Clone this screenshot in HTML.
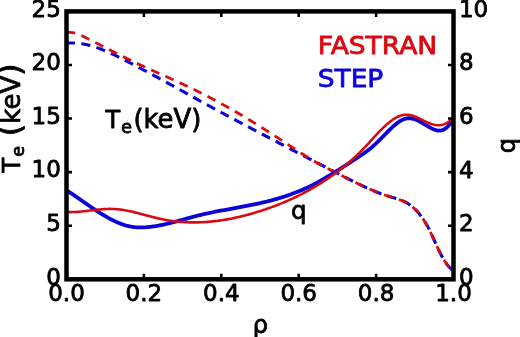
<!DOCTYPE html>
<html><head><meta charset="utf-8"><title>Te and q profiles</title>
<style>html,body{margin:0;padding:0;background:#fff}body{width:520px;height:337px;overflow:hidden}</style></head>
<body>
<svg width="520" height="337" viewBox="0 0 520 337" style="display:block;font-family:'DejaVu Sans','Liberation Sans',sans-serif">
<rect width="520" height="337" fill="#fff"/>
<clipPath id="c"><rect x="66.5" y="11.4" width="387.0" height="267.90000000000003"/></clipPath>
<g clip-path="url(#c)" fill="none" stroke-linejoin="round">
<path d="M66.50,43.23 L67.79,43.12 L69.09,43.03 L70.38,42.98 L71.68,42.96 L72.97,42.97 L74.27,43.01 L75.56,43.07 L76.85,43.16 L78.15,43.28 L79.44,43.43 L80.74,43.60 L82.03,43.80 L83.33,44.02 L84.62,44.26 L85.91,44.53 L87.21,44.82 L88.50,45.13 L89.80,45.47 L91.09,45.82 L92.39,46.20 L93.68,46.59 L94.97,47.00 L96.27,47.43 L97.56,47.88 L98.86,48.34 L100.15,48.82 L101.45,49.32 L102.74,49.83 L104.04,50.35 L105.33,50.89 L106.62,51.44 L107.92,52.00 L109.21,52.57 L110.51,53.16 L111.80,53.75 L113.10,54.36 L114.39,54.97 L115.68,55.60 L116.98,56.23 L118.27,56.87 L119.57,57.51 L120.86,58.16 L122.16,58.81 L123.45,59.47 L124.74,60.14 L126.04,60.80 L127.33,61.47 L128.63,62.15 L129.92,62.82 L131.22,63.49 L132.51,64.17 L133.80,64.84 L135.10,65.52 L136.39,66.20 L137.69,66.88 L138.98,67.56 L140.28,68.25 L141.57,68.93 L142.86,69.61 L144.16,70.30 L145.45,70.99 L146.75,71.68 L148.04,72.37 L149.34,73.06 L150.63,73.75 L151.92,74.45 L153.22,75.14 L154.51,75.84 L155.81,76.53 L157.10,77.23 L158.40,77.93 L159.69,78.63 L160.98,79.34 L162.28,80.04 L163.57,80.75 L164.87,81.45 L166.16,82.16 L167.46,82.87 L168.75,83.58 L170.05,84.29 L171.34,85.01 L172.63,85.72 L173.93,86.43 L175.22,87.15 L176.52,87.87 L177.81,88.59 L179.11,89.30 L180.40,90.02 L181.69,90.74 L182.99,91.46 L184.28,92.18 L185.58,92.90 L186.87,93.62 L188.17,94.34 L189.46,95.06 L190.75,95.78 L192.05,96.50 L193.34,97.22 L194.64,97.93 L195.93,98.65 L197.23,99.37 L198.52,100.08 L199.81,100.79 L201.11,101.50 L202.40,102.21 L203.70,102.92 L204.99,103.63 L206.29,104.34 L207.58,105.05 L208.87,105.75 L210.17,106.46 L211.46,107.16 L212.76,107.86 L214.05,108.57 L215.35,109.27 L216.64,109.97 L217.93,110.67 L219.23,111.37 L220.52,112.06 L221.82,112.76 L223.11,113.46 L224.41,114.15 L225.70,114.84 L226.99,115.54 L228.29,116.23 L229.58,116.92 L230.88,117.61 L232.17,118.31 L233.47,119.00 L234.76,119.68 L236.06,120.37 L237.35,121.06 L238.64,121.75 L239.94,122.44 L241.23,123.12 L242.53,123.81 L243.82,124.49 L245.12,125.18 L246.41,125.86 L247.70,126.54 L249.00,127.23 L250.29,127.91 L251.59,128.59 L252.88,129.27 L254.18,129.95 L255.47,130.63 L256.76,131.31 L258.06,131.99 L259.35,132.67 L260.65,133.35 L261.94,134.03 L263.24,134.71 L264.53,135.39 L265.82,136.07 L267.12,136.74 L268.41,137.42 L269.71,138.10 L271.00,138.77 L272.30,139.45 L273.59,140.13 L274.88,140.80 L276.18,141.48 L277.47,142.16 L278.77,142.83 L280.06,143.51 L281.36,144.18 L282.65,144.86 L283.94,145.53 L285.24,146.21 L286.53,146.88 L287.83,147.56 L289.12,148.23 L290.42,148.91 L291.71,149.58 L293.01,150.26 L294.30,150.93 L295.59,151.60 L296.89,152.28 L298.18,152.95 L299.48,153.63 L300.77,154.30 L302.07,154.97 L303.36,155.64 L304.65,156.32 L305.95,156.99 L307.24,157.66 L308.54,158.33 L309.83,159.01 L311.13,159.68 L312.42,160.35 L313.71,161.02 L315.01,161.69 L316.30,162.36 L317.60,163.04 L318.89,163.71 L320.19,164.38 L321.48,165.05 L322.77,165.72 L324.07,166.39 L325.36,167.06 L326.66,167.72 L327.95,168.39 L329.25,169.06 L330.54,169.73 L331.83,170.40 L333.13,171.07 L334.42,171.73 L335.72,172.40 L337.01,173.07 L338.31,173.74 L339.60,174.40 L340.89,175.07 L342.19,175.73 L343.48,176.40 L344.78,177.06 L346.07,177.73 L347.37,178.39 L348.66,179.05 L349.95,179.71 L351.25,180.36 L352.54,181.01 L353.84,181.66 L355.13,182.30 L356.43,182.94 L357.72,183.58 L359.02,184.21 L360.31,184.83 L361.60,185.45 L362.90,186.06 L364.19,186.66 L365.49,187.26 L366.78,187.85 L368.08,188.43 L369.37,189.00 L370.66,189.57 L371.96,190.12 L373.25,190.67 L374.55,191.20 L375.84,191.72 L377.14,192.24 L378.43,192.74 L379.72,193.23 L381.02,193.71 L382.31,194.17 L383.61,194.63 L384.90,195.07 L386.20,195.49 L387.49,195.90 L388.78,196.30 L390.08,196.68 L391.37,197.06 L392.67,197.43 L393.96,197.80 L395.26,198.19 L396.55,198.59 L397.84,199.00 L399.14,199.45 L400.43,199.92 L401.73,200.43 L403.02,200.99 L404.32,201.59 L405.61,202.24 L406.90,202.96 L408.20,203.74 L409.49,204.59 L410.79,205.51 L412.08,206.52 L413.38,207.62 L414.67,208.80 L415.96,210.09 L417.26,211.48 L418.55,212.99 L419.85,214.60 L421.14,216.32 L422.44,218.13 L423.73,220.04 L425.03,222.03 L426.32,224.13 L427.61,226.37 L428.91,228.79 L430.20,231.39 L431.50,234.13 L432.79,236.96 L434.09,239.85 L435.38,242.76 L436.67,245.65 L437.97,248.48 L439.26,251.20 L440.56,253.80 L441.85,256.25 L443.15,258.56 L444.44,260.71 L445.73,262.69 L447.03,264.49 L448.32,266.10 L449.62,267.51 L450.91,268.71 L452.21,269.69 L453.50,270.44" stroke="#0d05d8" stroke-width="3.1" stroke-dasharray="9.2 6.37" stroke-dashoffset="0.7"/>
<path d="M66.50,32.80 L67.79,32.56 L69.09,32.44 L70.38,32.43 L71.68,32.52 L72.97,32.70 L74.27,32.96 L75.56,33.30 L76.85,33.71 L78.15,34.17 L79.44,34.69 L80.74,35.24 L82.03,35.84 L83.33,36.45 L84.62,37.08 L85.91,37.73 L87.21,38.37 L88.50,39.02 L89.80,39.67 L91.09,40.32 L92.39,40.98 L93.68,41.64 L94.97,42.30 L96.27,42.96 L97.56,43.62 L98.86,44.28 L100.15,44.95 L101.45,45.61 L102.74,46.28 L104.04,46.94 L105.33,47.61 L106.62,48.27 L107.92,48.94 L109.21,49.60 L110.51,50.26 L111.80,50.93 L113.10,51.59 L114.39,52.25 L115.68,52.91 L116.98,53.56 L118.27,54.22 L119.57,54.87 L120.86,55.52 L122.16,56.17 L123.45,56.81 L124.74,57.45 L126.04,58.09 L127.33,58.73 L128.63,59.36 L129.92,59.98 L131.22,60.61 L132.51,61.23 L133.80,61.84 L135.10,62.46 L136.39,63.07 L137.69,63.67 L138.98,64.28 L140.28,64.88 L141.57,65.48 L142.86,66.08 L144.16,66.67 L145.45,67.27 L146.75,67.86 L148.04,68.45 L149.34,69.04 L150.63,69.62 L151.92,70.21 L153.22,70.79 L154.51,71.38 L155.81,71.96 L157.10,72.54 L158.40,73.13 L159.69,73.71 L160.98,74.29 L162.28,74.87 L163.57,75.45 L164.87,76.03 L166.16,76.61 L167.46,77.20 L168.75,77.78 L170.05,78.36 L171.34,78.95 L172.63,79.54 L173.93,80.12 L175.22,80.71 L176.52,81.30 L177.81,81.90 L179.11,82.49 L180.40,83.09 L181.69,83.69 L182.99,84.29 L184.28,84.89 L185.58,85.50 L186.87,86.10 L188.17,86.72 L189.46,87.33 L190.75,87.95 L192.05,88.57 L193.34,89.20 L194.64,89.82 L195.93,90.46 L197.23,91.09 L198.52,91.73 L199.81,92.38 L201.11,93.03 L202.40,93.68 L203.70,94.34 L204.99,95.00 L206.29,95.66 L207.58,96.33 L208.87,97.00 L210.17,97.68 L211.46,98.36 L212.76,99.05 L214.05,99.73 L215.35,100.43 L216.64,101.12 L217.93,101.82 L219.23,102.52 L220.52,103.23 L221.82,103.94 L223.11,104.66 L224.41,105.37 L225.70,106.10 L226.99,106.82 L228.29,107.55 L229.58,108.28 L230.88,109.02 L232.17,109.76 L233.47,110.50 L234.76,111.25 L236.06,112.00 L237.35,112.75 L238.64,113.51 L239.94,114.27 L241.23,115.03 L242.53,115.79 L243.82,116.56 L245.12,117.34 L246.41,118.11 L247.70,118.89 L249.00,119.67 L250.29,120.46 L251.59,121.25 L252.88,122.04 L254.18,122.83 L255.47,123.63 L256.76,124.43 L258.06,125.23 L259.35,126.04 L260.65,126.85 L261.94,127.66 L263.24,128.48 L264.53,129.29 L265.82,130.12 L267.12,130.94 L268.41,131.77 L269.71,132.59 L271.00,133.43 L272.30,134.26 L273.59,135.10 L274.88,135.94 L276.18,136.78 L277.47,137.62 L278.77,138.47 L280.06,139.32 L281.36,140.17 L282.65,141.03 L283.94,141.88 L285.24,142.74 L286.53,143.59 L287.83,144.45 L289.12,145.30 L290.42,146.15 L291.71,147.01 L293.01,147.86 L294.30,148.70 L295.59,149.55 L296.89,150.39 L298.18,151.23 L299.48,152.06 L300.77,152.89 L302.07,153.72 L303.36,154.53 L304.65,155.35 L305.95,156.15 L307.24,156.95 L308.54,157.75 L309.83,158.53 L311.13,159.31 L312.42,160.07 L313.71,160.83 L315.01,161.58 L316.30,162.32 L317.60,163.05 L318.89,163.77 L320.19,164.49 L321.48,165.19 L322.77,165.89 L324.07,166.58 L325.36,167.27 L326.66,167.95 L327.95,168.62 L329.25,169.29 L330.54,169.95 L331.83,170.61 L333.13,171.27 L334.42,171.93 L335.72,172.58 L337.01,173.23 L338.31,173.88 L339.60,174.53 L340.89,175.18 L342.19,175.83 L343.48,176.48 L344.78,177.13 L346.07,177.78 L347.37,178.42 L348.66,179.07 L349.95,179.72 L351.25,180.36 L352.54,181.00 L353.84,181.64 L355.13,182.28 L356.43,182.91 L357.72,183.54 L359.02,184.16 L360.31,184.78 L361.60,185.39 L362.90,186.00 L364.19,186.60 L365.49,187.19 L366.78,187.78 L368.08,188.36 L369.37,188.93 L370.66,189.50 L371.96,190.05 L373.25,190.60 L374.55,191.14 L375.84,191.67 L377.14,192.18 L378.43,192.69 L379.72,193.19 L381.02,193.67 L382.31,194.14 L383.61,194.60 L384.90,195.05 L386.20,195.48 L387.49,195.90 L388.78,196.31 L390.08,196.70 L391.37,197.09 L392.67,197.47 L393.96,197.86 L395.26,198.25 L396.55,198.66 L397.84,199.09 L399.14,199.54 L400.43,200.02 L401.73,200.53 L403.02,201.09 L404.32,201.69 L405.61,202.34 L406.90,203.05 L408.20,203.82 L409.49,204.66 L410.79,205.57 L412.08,206.56 L413.38,207.63 L414.67,208.80 L415.96,210.05 L417.26,211.41 L418.55,212.87 L419.85,214.44 L421.14,216.13 L422.44,217.94 L423.73,219.87 L425.03,221.94 L426.32,224.14 L427.61,226.48 L428.91,228.96 L430.20,231.57 L431.50,234.29 L432.79,237.09 L434.09,239.92 L435.38,242.77 L436.67,245.61 L437.97,248.39 L439.26,251.11 L440.56,253.72 L441.85,256.21 L443.15,258.56 L444.44,260.75 L445.73,262.76 L447.03,264.57 L448.32,266.16 L449.62,267.52 L450.91,268.63 L452.21,269.59 L453.50,270.51" stroke="#da0a12" stroke-width="2.75" stroke-dasharray="8.9 6.67" stroke-dashoffset="0.2"/>
<path d="M66.50,190.24 L67.79,191.08 L69.09,191.94 L70.38,192.80 L71.68,193.67 L72.97,194.55 L74.27,195.43 L75.56,196.32 L76.85,197.21 L78.15,198.11 L79.44,199.01 L80.74,199.91 L82.03,200.82 L83.33,201.72 L84.62,202.62 L85.91,203.52 L87.21,204.42 L88.50,205.31 L89.80,206.20 L91.09,207.08 L92.39,207.96 L93.68,208.83 L94.97,209.69 L96.27,210.54 L97.56,211.38 L98.86,212.21 L100.15,213.03 L101.45,213.84 L102.74,214.63 L104.04,215.41 L105.33,216.18 L106.62,216.92 L107.92,217.65 L109.21,218.37 L110.51,219.06 L111.80,219.73 L113.10,220.38 L114.39,221.01 L115.68,221.61 L116.98,222.19 L118.27,222.75 L119.57,223.28 L120.86,223.78 L122.16,224.25 L123.45,224.69 L124.74,225.10 L126.04,225.48 L127.33,225.82 L128.63,226.14 L129.92,226.41 L131.22,226.66 L132.51,226.86 L133.80,227.04 L135.10,227.18 L136.39,227.29 L137.69,227.37 L138.98,227.43 L140.28,227.45 L141.57,227.46 L142.86,227.43 L144.16,227.38 L145.45,227.31 L146.75,227.22 L148.04,227.11 L149.34,226.98 L150.63,226.83 L151.92,226.67 L153.22,226.49 L154.51,226.30 L155.81,226.09 L157.10,225.87 L158.40,225.64 L159.69,225.39 L160.98,225.13 L162.28,224.87 L163.57,224.59 L164.87,224.31 L166.16,224.01 L167.46,223.71 L168.75,223.40 L170.05,223.08 L171.34,222.75 L172.63,222.42 L173.93,222.08 L175.22,221.74 L176.52,221.40 L177.81,221.05 L179.11,220.70 L180.40,220.34 L181.69,219.99 L182.99,219.63 L184.28,219.27 L185.58,218.91 L186.87,218.55 L188.17,218.20 L189.46,217.84 L190.75,217.49 L192.05,217.14 L193.34,216.79 L194.64,216.45 L195.93,216.11 L197.23,215.78 L198.52,215.45 L199.81,215.13 L201.11,214.82 L202.40,214.51 L203.70,214.21 L204.99,213.91 L206.29,213.62 L207.58,213.34 L208.87,213.06 L210.17,212.79 L211.46,212.52 L212.76,212.25 L214.05,211.99 L215.35,211.73 L216.64,211.48 L217.93,211.23 L219.23,210.98 L220.52,210.73 L221.82,210.49 L223.11,210.25 L224.41,210.01 L225.70,209.77 L226.99,209.54 L228.29,209.30 L229.58,209.07 L230.88,208.83 L232.17,208.60 L233.47,208.37 L234.76,208.13 L236.06,207.90 L237.35,207.67 L238.64,207.43 L239.94,207.19 L241.23,206.95 L242.53,206.71 L243.82,206.47 L245.12,206.22 L246.41,205.98 L247.70,205.73 L249.00,205.47 L250.29,205.21 L251.59,204.95 L252.88,204.69 L254.18,204.42 L255.47,204.14 L256.76,203.87 L258.06,203.59 L259.35,203.30 L260.65,203.01 L261.94,202.71 L263.24,202.41 L264.53,202.10 L265.82,201.79 L267.12,201.47 L268.41,201.14 L269.71,200.81 L271.00,200.47 L272.30,200.13 L273.59,199.78 L274.88,199.42 L276.18,199.05 L277.47,198.68 L278.77,198.30 L280.06,197.91 L281.36,197.51 L282.65,197.11 L283.94,196.70 L285.24,196.27 L286.53,195.84 L287.83,195.40 L289.12,194.95 L290.42,194.50 L291.71,194.03 L293.01,193.55 L294.30,193.06 L295.59,192.56 L296.89,192.06 L298.18,191.54 L299.48,191.01 L300.77,190.47 L302.07,189.92 L303.36,189.35 L304.65,188.78 L305.95,188.19 L307.24,187.59 L308.54,186.98 L309.83,186.36 L311.13,185.73 L312.42,185.08 L313.71,184.42 L315.01,183.75 L316.30,183.06 L317.60,182.37 L318.89,181.67 L320.19,180.95 L321.48,180.22 L322.77,179.49 L324.07,178.75 L325.36,177.99 L326.66,177.23 L327.95,176.46 L329.25,175.69 L330.54,174.90 L331.83,174.11 L333.13,173.32 L334.42,172.51 L335.72,171.71 L337.01,170.89 L338.31,170.07 L339.60,169.25 L340.89,168.42 L342.19,167.59 L343.48,166.76 L344.78,165.92 L346.07,165.08 L347.37,164.23 L348.66,163.39 L349.95,162.54 L351.25,161.70 L352.54,160.85 L353.84,160.00 L355.13,159.15 L356.43,158.31 L357.72,157.46 L359.02,156.61 L360.31,155.76 L361.60,154.90 L362.90,154.02 L364.19,153.13 L365.49,152.22 L366.78,151.28 L368.08,150.31 L369.37,149.31 L370.66,148.26 L371.96,147.18 L373.25,146.05 L374.55,144.89 L375.84,143.69 L377.14,142.45 L378.43,141.19 L379.72,139.90 L381.02,138.58 L382.31,137.25 L383.61,135.92 L384.90,134.58 L386.20,133.25 L387.49,131.92 L388.78,130.62 L390.08,129.35 L391.37,128.10 L392.67,126.90 L393.96,125.75 L395.26,124.65 L396.55,123.61 L397.84,122.64 L399.14,121.75 L400.43,120.94 L401.73,120.22 L403.02,119.60 L404.32,119.09 L405.61,118.69 L406.90,118.41 L408.20,118.25 L409.49,118.22 L410.79,118.32 L412.08,118.52 L413.38,118.83 L414.67,119.23 L415.96,119.72 L417.26,120.27 L418.55,120.89 L419.85,121.56 L421.14,122.28 L422.44,123.03 L423.73,123.80 L425.03,124.59 L426.32,125.38 L427.61,126.16 L428.91,126.93 L430.20,127.66 L431.50,128.35 L432.79,128.97 L434.09,129.51 L435.38,129.96 L436.67,130.30 L437.97,130.52 L439.26,130.59 L440.56,130.52 L441.85,130.27 L443.15,129.84 L444.44,129.21 L445.73,128.36 L447.03,127.29 L448.32,125.97 L449.62,124.39 L450.91,122.53 L452.21,120.38 L453.50,117.93" stroke="#0d05d8" stroke-width="3.8"/>
<path d="M66.50,212.05 L67.79,212.09 L69.09,212.12 L70.38,212.12 L71.68,212.11 L72.97,212.07 L74.27,212.02 L75.56,211.96 L76.85,211.88 L78.15,211.79 L79.44,211.68 L80.74,211.56 L82.03,211.44 L83.33,211.31 L84.62,211.17 L85.91,211.02 L87.21,210.87 L88.50,210.72 L89.80,210.57 L91.09,210.41 L92.39,210.26 L93.68,210.11 L94.97,209.96 L96.27,209.81 L97.56,209.68 L98.86,209.55 L100.15,209.43 L101.45,209.31 L102.74,209.21 L104.04,209.13 L105.33,209.05 L106.62,208.99 L107.92,208.95 L109.21,208.92 L110.51,208.91 L111.80,208.93 L113.10,208.96 L114.39,209.02 L115.68,209.10 L116.98,209.20 L118.27,209.32 L119.57,209.47 L120.86,209.63 L122.16,209.81 L123.45,210.01 L124.74,210.23 L126.04,210.46 L127.33,210.71 L128.63,210.97 L129.92,211.24 L131.22,211.52 L132.51,211.82 L133.80,212.12 L135.10,212.43 L136.39,212.75 L137.69,213.08 L138.98,213.41 L140.28,213.75 L141.57,214.09 L142.86,214.44 L144.16,214.78 L145.45,215.13 L146.75,215.48 L148.04,215.82 L149.34,216.17 L150.63,216.51 L151.92,216.84 L153.22,217.18 L154.51,217.50 L155.81,217.82 L157.10,218.13 L158.40,218.43 L159.69,218.73 L160.98,219.01 L162.28,219.28 L163.57,219.54 L164.87,219.78 L166.16,220.02 L167.46,220.24 L168.75,220.45 L170.05,220.66 L171.34,220.84 L172.63,221.02 L173.93,221.19 L175.22,221.35 L176.52,221.49 L177.81,221.63 L179.11,221.75 L180.40,221.86 L181.69,221.97 L182.99,222.06 L184.28,222.14 L185.58,222.21 L186.87,222.27 L188.17,222.32 L189.46,222.36 L190.75,222.39 L192.05,222.41 L193.34,222.42 L194.64,222.42 L195.93,222.41 L197.23,222.39 L198.52,222.36 L199.81,222.32 L201.11,222.27 L202.40,222.21 L203.70,222.14 L204.99,222.06 L206.29,221.98 L207.58,221.88 L208.87,221.78 L210.17,221.66 L211.46,221.54 L212.76,221.41 L214.05,221.27 L215.35,221.12 L216.64,220.96 L217.93,220.79 L219.23,220.61 L220.52,220.43 L221.82,220.24 L223.11,220.04 L224.41,219.83 L225.70,219.61 L226.99,219.38 L228.29,219.15 L229.58,218.91 L230.88,218.66 L232.17,218.40 L233.47,218.13 L234.76,217.86 L236.06,217.58 L237.35,217.29 L238.64,217.00 L239.94,216.69 L241.23,216.38 L242.53,216.06 L243.82,215.74 L245.12,215.41 L246.41,215.07 L247.70,214.72 L249.00,214.37 L250.29,214.01 L251.59,213.64 L252.88,213.27 L254.18,212.89 L255.47,212.50 L256.76,212.11 L258.06,211.71 L259.35,211.30 L260.65,210.89 L261.94,210.47 L263.24,210.04 L264.53,209.61 L265.82,209.18 L267.12,208.73 L268.41,208.28 L269.71,207.82 L271.00,207.36 L272.30,206.89 L273.59,206.41 L274.88,205.93 L276.18,205.43 L277.47,204.93 L278.77,204.43 L280.06,203.91 L281.36,203.39 L282.65,202.86 L283.94,202.32 L285.24,201.77 L286.53,201.22 L287.83,200.65 L289.12,200.08 L290.42,199.50 L291.71,198.91 L293.01,198.31 L294.30,197.71 L295.59,197.09 L296.89,196.47 L298.18,195.83 L299.48,195.19 L300.77,194.54 L302.07,193.88 L303.36,193.21 L304.65,192.52 L305.95,191.83 L307.24,191.13 L308.54,190.42 L309.83,189.70 L311.13,188.97 L312.42,188.22 L313.71,187.47 L315.01,186.71 L316.30,185.93 L317.60,185.15 L318.89,184.35 L320.19,183.54 L321.48,182.72 L322.77,181.89 L324.07,181.05 L325.36,180.20 L326.66,179.33 L327.95,178.45 L329.25,177.57 L330.54,176.66 L331.83,175.75 L333.13,174.83 L334.42,173.89 L335.72,172.94 L337.01,171.98 L338.31,171.00 L339.60,170.01 L340.89,169.01 L342.19,167.99 L343.48,166.95 L344.78,165.90 L346.07,164.84 L347.37,163.75 L348.66,162.65 L349.95,161.54 L351.25,160.40 L352.54,159.25 L353.84,158.07 L355.13,156.88 L356.43,155.66 L357.72,154.43 L359.02,153.17 L360.31,151.89 L361.60,150.59 L362.90,149.27 L364.19,147.92 L365.49,146.55 L366.78,145.16 L368.08,143.77 L369.37,142.36 L370.66,140.95 L371.96,139.53 L373.25,138.12 L374.55,136.71 L375.84,135.32 L377.14,133.93 L378.43,132.57 L379.72,131.22 L381.02,129.90 L382.31,128.61 L383.61,127.36 L384.90,126.13 L386.20,124.95 L387.49,123.82 L388.78,122.73 L390.08,121.69 L391.37,120.71 L392.67,119.79 L393.96,118.93 L395.26,118.14 L396.55,117.42 L397.84,116.77 L399.14,116.21 L400.43,115.73 L401.73,115.33 L403.02,115.03 L404.32,114.82 L405.61,114.71 L406.90,114.70 L408.20,114.79 L409.49,114.98 L410.79,115.25 L412.08,115.60 L413.38,116.01 L414.67,116.48 L415.96,117.00 L417.26,117.56 L418.55,118.16 L419.85,118.77 L421.14,119.41 L422.44,120.04 L423.73,120.68 L425.03,121.30 L426.32,121.91 L427.61,122.48 L428.91,123.02 L430.20,123.51 L431.50,123.96 L432.79,124.35 L434.09,124.67 L435.38,124.92 L436.67,125.10 L437.97,125.19 L439.26,125.19 L440.56,125.08 L441.85,124.88 L443.15,124.56 L444.44,124.12 L445.73,123.56 L447.03,122.86 L448.32,122.03 L449.62,121.04 L450.91,119.90 L452.21,118.60 L453.50,117.14" stroke="#da0a12" stroke-width="2.6"/>
</g>
<path d="M66.50,279.3 v-5.5 M66.50,11.4 v5.5 M143.90,279.3 v-5.5 M143.90,11.4 v5.5 M221.30,279.3 v-5.5 M221.30,11.4 v5.5 M298.70,279.3 v-5.5 M298.70,11.4 v5.5 M376.10,279.3 v-5.5 M376.10,11.4 v5.5 M453.50,279.3 v-5.5 M453.50,11.4 v5.5 M66.5,279.30 h5.5 M453.5,279.30 h-5.5 M66.5,225.72 h5.5 M453.5,225.72 h-5.5 M66.5,172.14 h5.5 M453.5,172.14 h-5.5 M66.5,118.56 h5.5 M453.5,118.56 h-5.5 M66.5,64.98 h5.5 M453.5,64.98 h-5.5 M66.5,11.40 h5.5 M453.5,11.40 h-5.5" stroke="#000" stroke-width="2.6" fill="none"/>
<rect x="66.5" y="11.4" width="387.0" height="267.90000000000003" fill="none" stroke="#000" stroke-width="4.5"/>
<g font-size="23" fill="#000" stroke="#000" stroke-width="0.8" stroke-linejoin="round">
<text x="66.50" y="301.2" text-anchor="middle">0.0</text>
<text x="143.90" y="301.2" text-anchor="middle">0.2</text>
<text x="221.30" y="301.2" text-anchor="middle">0.4</text>
<text x="298.70" y="301.2" text-anchor="middle">0.6</text>
<text x="376.10" y="301.2" text-anchor="middle">0.8</text>
<text x="453.50" y="301.2" text-anchor="middle">1.0</text>
<text x="60.9" y="284.50" text-anchor="end">0</text>
<text x="60.9" y="230.92" text-anchor="end">5</text>
<text x="60.9" y="177.34" text-anchor="end">10</text>
<text x="60.9" y="123.76" text-anchor="end">15</text>
<text x="60.9" y="70.18" text-anchor="end">20</text>
<text x="60.9" y="16.60" text-anchor="end">25</text>
<text x="458.9" y="284.70">0</text>
<text x="458.9" y="231.12">2</text>
<text x="458.9" y="177.54">4</text>
<text x="458.9" y="123.96">6</text>
<text x="458.9" y="70.38">8</text>
<text x="458.9" y="16.80">10</text>
</g>
<g font-size="24" fill="#000" stroke="#000" stroke-width="0.8" stroke-linejoin="round">
<text x="260.3" y="333.3" text-anchor="middle">ρ</text>
<text transform="translate(514.8,145.6) rotate(-90)" text-anchor="middle">q</text>
<g transform="translate(19.7,172.6) rotate(-90)"><text x="0" y="0">T</text><text x="15.9" y="4.5" font-size="17.5">e</text><text x="36.3" y="0.6" font-size="32">(</text><text x="48.9" y="0" font-size="26">keV</text><text x="96.5" y="0.6" font-size="32">)</text></g>
<text x="291.1" y="219.3" font-size="24.5">q</text>
<text x="105.4" y="128">T<tspan font-size="18" dy="5" dx="1">e</tspan><tspan dy="-5" dx="1.3" font-size="25.9">(keV)</tspan></text>
<text transform="translate(317.8,54.0) scale(1.088,1)" fill="#da0a12" stroke="#da0a12" font-size="24.4">FASTRAN</text>
<text transform="translate(317.7,86.5) scale(1.05,1)" fill="#0d05d8" stroke="#0d05d8" font-size="25.2">STEP</text>
</g>
</svg>
</body></html>
